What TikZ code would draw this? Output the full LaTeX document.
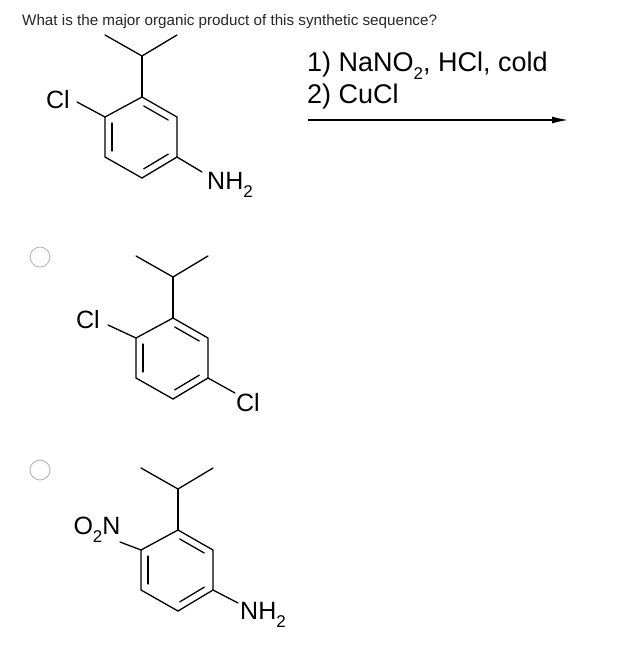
\documentclass[tikz,border=0pt]{standalone}
\usepackage{fontspec}
\setmainfont{Liberation Sans}
\usetikzlibrary{arrows.meta,calc}
\newcommand{\lsub}[1]{\raisebox{-0.3em}{\fontsize{17}{18}\selectfont #1}}
\newcommand{\molring}[3]{%
 \begin{scope}[shift={(#1,#2)}]
 \coordinate (#3m1) at (-37,-62); \coordinate (#3ch) at (0,-41); \coordinate (#3m2) at (35,-62);
 \coordinate (#3a) at (0,0); \coordinate (#3b) at (35,20); \coordinate (#3c) at (35,60);
 \coordinate (#3d) at (0,81); \coordinate (#3e) at (-37,60); \coordinate (#3f) at (-37,20);
 \draw[bond] (#3m1)--(#3ch)--(#3m2);
 \draw[bond] (#3ch)--(#3a);
 \draw[bond, line join=miter] (#3a)--(#3b)--(#3c)--(#3d)--(#3e)--(#3f)--cycle;
 \draw[bond] ($(#3a)!0.15!(#3b)+(-3.5,6)$)--($(#3a)!0.85!(#3b)+(-3.5,6)$);
 \draw[bond] ($(#3c)!0.15!(#3d)+(-3.5,-6)$)--($(#3c)!0.85!(#3d)+(-3.5,-6)$);
 \draw[bond] ($(#3e)!0.15!(#3f)+(7,0)$)--($(#3e)!0.85!(#3f)+(7,0)$);
 \end{scope}}
\begin{document}
\begin{tikzpicture}[x=1pt,y=-1pt,
  bond/.style={line width=1.3pt, line cap=round},
  lbl/.style={font=\fontsize{25}{27}\selectfont, inner sep=0pt},
  radio/.style={circle, draw=gray!60, line width=0.8pt, fill=white, minimum size=20pt, inner sep=0pt}]
\useasboundingbox (0,0) rectangle (621,653);
\node[anchor=west, inner sep=0pt, font=\fontsize{15.2}{17}\selectfont, text=black!85] (q) at (22,22) {What is the major organic product of this synthetic sequence?};
% starting material
\molring{142}{97}{s}
\node[lbl] (scl) at (58,100) {Cl};
\node[lbl] (snh) at (230,185) {NH\lsub{2}};
\draw[bond] (sf) -- (77,102);
\draw[bond] (sc) -- (202,172);
% reagents
\node[lbl, anchor=west, font=\fontsize{27}{29}\selectfont] (r1) at (307,66) {1) NaNO\lsub{2}, HCl, cold};
\node[lbl, anchor=west, font=\fontsize{27}{29}\selectfont] (r2) at (307,97) {2) CuCl};
\coordinate (arS) at (308,120); \coordinate (arE) at (568,120);
\draw[line width=1.2pt, -{Latex[length=16pt,width=7pt]}] (arS) -- (arE);
% option 1
\node[radio] (o1) at (40,257) {};
\molring{173}{318}{p}
\node[lbl] (pcl1) at (88,320) {Cl};
\node[lbl] (pcl2) at (248,403) {Cl};
\draw[bond] (pf) -- (108,325);
\draw[bond] (pc) -- (235,393);
% option 2
\node[radio] (o2) at (40,470) {};
\molring{178}{530}{q}
\node[lbl] (qno) at (97,530) {O\lsub{2}N};
\node[lbl] (qnh) at (263,615) {NH\lsub{2}};
\draw[bond] (qf) -- (120,542);
\draw[bond] (qc) -- (238,603);
\end{tikzpicture}
\end{document}
